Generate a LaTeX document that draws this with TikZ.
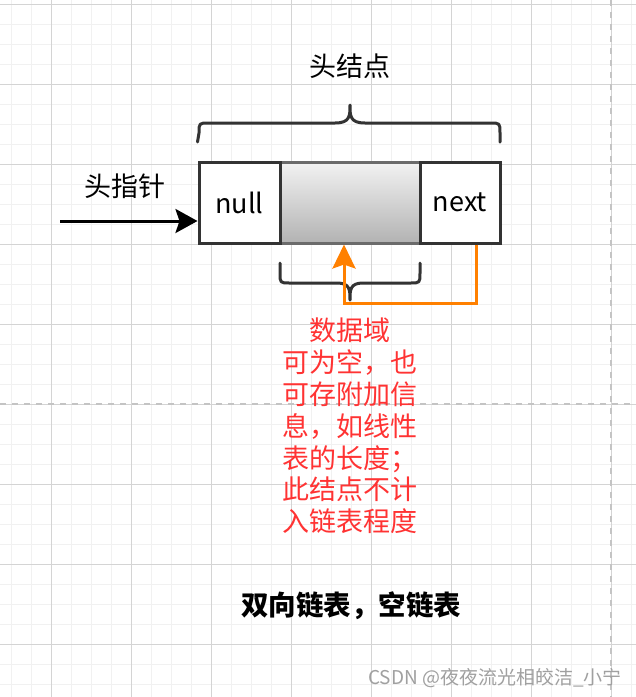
\documentclass[tikz,border=0pt]{standalone}
\usepackage{fontspec}
\setmainfont{Noto Sans CJK SC}
\usetikzlibrary{arrows.meta,calc}
\definecolor{gridminor}{HTML}{F1F1F1}
\definecolor{gridmajor}{HTML}{D4D4D4}
\definecolor{pagedash}{HTML}{C4C4C4}
\definecolor{cellborder}{HTML}{333333}
\definecolor{datagray}{HTML}{6B6B6B}
\definecolor{orangeline}{HTML}{FF8000}
\definecolor{redtext}{HTML}{FF3333}
\definecolor{wmgray}{HTML}{A0A0A0}
\tikzset{
  cell/.style={draw=cellborder, line width=3pt, fill=white, inner sep=0pt, minimum height=81pt,
    font=\fontsize{27}{31}\selectfont},
  datacell/.style={draw=datagray, line width=3pt, inner sep=0pt, minimum height=81pt, minimum width=140pt,
    top color=black!5, bottom color=black!30},
  brace/.style={draw=cellborder, line width=3pt, line cap=round, line join=round},
  label/.style={inner sep=0pt, font=\fontsize{27}{32}\selectfont},
}
\begin{document}
\begin{tikzpicture}[x=1pt,y=-1pt]
\useasboundingbox (0,0) rectangle (636,697);
\fill[white] (0,0) rectangle (636,697);
% grid
\foreach \x in {11,31,...,631} \draw[gridminor, line width=1pt] (\x,0) -- (\x,697);
\foreach \y in {4,24,...,694} \draw[gridminor, line width=1pt] (0,\y) -- (636,\y);
\foreach \x in {51,131,...,611} \draw[gridmajor, line width=1pt] (\x,0) -- (\x,697);
\foreach \y in {4,84,...,684} \draw[gridmajor, line width=1pt] (0,\y) -- (636,\y);
\draw[pagedash, line width=1.5pt, dash pattern=on 6pt off 6pt] (0,404) -- (636,404);
\draw[pagedash, line width=1.5pt, dash pattern=on 6pt off 6pt] (611,0) -- (611,697);

% cells
\node[datacell] (data) at (350,202.5) {};
\node[cell, minimum width=81pt, text depth=-2pt] (null) at (239.5,202.5) {null};
\node[cell, minimum width=80pt, text depth=-2pt] (next) at (460,202.5) {next};

% top brace
\draw[brace] (null.north west |- 0,142) -- (199,133) .. controls (199,123) .. (209,123)
  -- (335,123) .. controls (350,123) and (350,116) .. (350,105)
  .. controls (350,116) and (350,123) .. (365,123) -- (490,123)
  .. controls (500,123) .. (500,133) -- (500,142);
\node[label] (headnode) at (350,66) {头结点};

% head pointer
\coordinate (hp) at (60,221);
\draw[black, line width=3pt, -{Stealth[length=22pt,width=24pt,inset=4pt]}] (hp) -- (hp -| null.west);
\node[label] (headptr) at (125,186) {头指针};

% lower brace
\draw[brace] (280,263) -- (280,273) .. controls (280,283) .. (290,283)
  -- (337,283) .. controls (350,283) and (350,290) .. (350,300)
  .. controls (350,290) and (350,283) .. (363,283) -- (410,283)
  .. controls (420,283) .. (420,273) -- (420,263);

% orange connector
\draw[orangeline, line width=3pt, -{Stealth[length=24pt,width=23pt,inset=4pt]}]
  ([xshift=16pt]next.south) -- ++(0,59) -| ([xshift=-6pt]data.south);

% red note
\node[label, text=redtext, align=center, font=\fontsize{27}{31.8}\selectfont] (note) at (350,426)
  {数据域\\可为空，也\\可存附加信\\息，如线性\\表的长度；\\此结点不计\\入链表程度};

% title
\node[label, font=\fontsize{27.5}{32}\selectfont\bfseries] (title) at (351,606) {双向链表，空链表};

% watermark
\node[inner sep=0pt, anchor=east, text=wmgray, font=\fontsize{19}{22}\selectfont] (wm) at (622,678) {CSDN @夜夜流光相皎洁\_小宁};
\end{tikzpicture}
\end{document}
